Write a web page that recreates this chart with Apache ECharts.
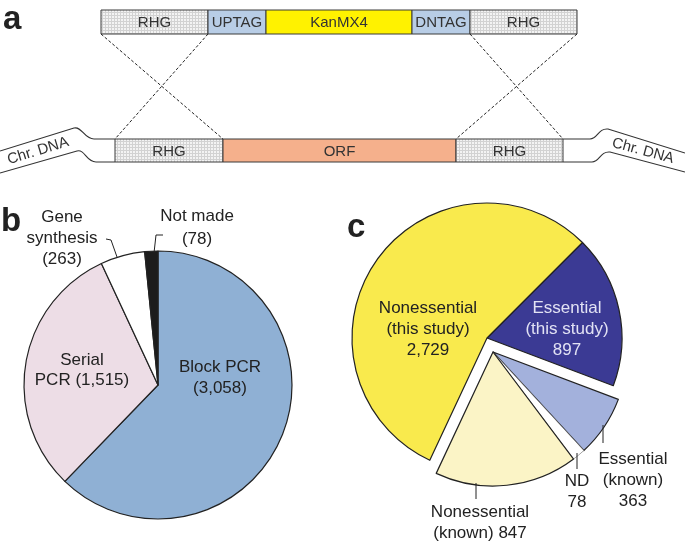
<!DOCTYPE html>
<html><head><meta charset="utf-8">
<script src="https://cdn.jsdelivr.net/npm/echarts@6/dist/echarts.min.js"></script>
<style>html,body{margin:0;padding:0;background:#fff}#c{width:685px;height:543px}</style>
</head><body><div id="c"></div>
<script>
// ---- Panel a: deletion-cassette construct (segment labels and lengths) ----
const cassetteLabels = ['RHG', 'UPTAG', 'KanMX4', 'DNTAG', 'RHG'];
const cassetteLengths = [107, 58, 146, 58, 107];
const chromLabels = ['RHG', 'ORF', 'RHG'];
const chromLengths = [108, 233, 107];

// ---- Panel b: construction method ----
const methodLabels = ['Block PCR', 'Serial PCR', 'Gene synthesis', 'Not made'];
const methodCounts = [3058, 1515, 263, 78];

// ---- Panel c: essentiality ----
const classLabels = ['Essential (this study)', 'Essential (known)', 'ND', 'Nonessential (known)', 'Nonessential (this study)'];
const classCounts = [897, 363, 78, 847, 2729];
const classExploded = [false, true, true, true, false];

const FONT = '"Liberation Sans", Arial, sans-serif';
const fmt = n => n.toLocaleString('en-US');

function gridPattern() {
  const cv = document.createElement('canvas');
  cv.width = 3; cv.height = 3;
  const g = cv.getContext('2d');
  g.fillStyle = '#f3f3f3'; g.fillRect(0, 0, 3, 3);
  g.fillStyle = '#d2d2d2'; g.fillRect(0, 0, 3, 1); g.fillRect(0, 0, 1, 3);
  return { image: cv, repeat: 'repeat' };
}
const rhgFill = gridPattern();
const segFill = { 'RHG': rhgFill, 'UPTAG': '#b8cde6', 'DNTAG': '#b8cde6', 'KanMX4': '#fff200', 'ORF': '#f5b08c' };

const cassetteStart = 101, chromStart = 115;
const rowTop = [10, 34], rowBottom = [139, 162];

function buildSegs(labels, lengths, start, row) {
  const out = []; let x = start;
  labels.forEach((l, i) => { out.push({ label: l, value: [x, x + lengths[i], row[0], row[1]] }); x += lengths[i]; });
  return out;
}
const segs = buildSegs(cassetteLabels, cassetteLengths, cassetteStart, rowTop)
  .concat(buildSegs(chromLabels, chromLengths, chromStart, rowBottom));

const chart = echarts.init(document.getElementById('c'), null, { renderer: 'canvas' });

function pieItems(labels, counts, colors, visibleMask, border) {
  return labels.map((l, i) => {
    const vis = visibleMask ? visibleMask[i] : true;
    return {
      name: l, value: counts[i],
      itemStyle: vis ? { color: colors[i], borderColor: border[i] || '#222', borderWidth: border[i] ? 0.6 : 1.2 }
                     : { color: 'rgba(0,0,0,0)', borderWidth: 0 }
    };
  });
}

const classColors = ['#3b3a94', '#a3b1dc', '#ffffff', '#fbf4c6', '#f9ea4d'];
const classBorders = [null, null, '#666', null, null];

const opt = {
  animation: false,
  grid: { left: 0, right: 0, top: 0, bottom: 0 },
  xAxis: { type: 'value', min: 0, max: 685, show: false },
  yAxis: { type: 'value', min: 0, max: 543, inverse: true, show: false },
  series: [
    {
      type: 'custom', silent: true, coordinateSystem: 'cartesian2d',
      data: segs.map(s => s.value),
      renderItem(params, api) {
        const s = segs[params.dataIndex];
        const p0 = api.coord([api.value(0), api.value(2)]);
        const p1 = api.coord([api.value(1), api.value(3)]);
        return { type: 'group', children: [
          { type: 'rect', shape: { x: p0[0], y: p0[1], width: p1[0] - p0[0], height: p1[1] - p0[1] },
            style: { fill: segFill[s.label], stroke: '#3a3a3a', lineWidth: 1 } },
          { type: 'text', style: { text: s.label, x: (p0[0] + p1[0]) / 2, y: (p0[1] + p1[1]) / 2 + 1,
            align: 'center', verticalAlign: 'middle', font: '15px ' + FONT, fill: '#333' } }
        ]};
      }
    },
    {
      type: 'custom', silent: true, coordinateSystem: 'cartesian2d',
      data: [[0]],
      renderItem(params, api) {
        const c = (x, y) => api.coord([x, y]);
        const tL0 = segs[0].value[0], tL1 = segs[0].value[1];
        const tR0 = segs[4].value[0], tR1 = segs[4].value[1];
        const bL0 = segs[5].value[0], bL1 = segs[5].value[1];
        const bR0 = segs[7].value[0], bR1 = segs[7].value[1];
        const yT = rowTop[1], yB = rowBottom[0], yB2 = rowBottom[1];
        const dash = (a, b) => ({ type: 'line', shape: { x1: a[0], y1: a[1], x2: b[0], y2: b[1] },
          style: { stroke: '#222', lineWidth: 1, lineDash: [3, 2] } });
        const path = d => ({ type: 'path', shape: { pathData: d }, style: { fill: null, stroke: '#333', lineWidth: 1.1 } });
        const pd = (a) => a.join(' ');
        const q = (x, y) => { const p = c(x, y); return p[0] + ' ' + p[1]; };
        const leftUp = pd(['M', q(0, 151), 'L', q(74, 128), 'C', q(82, 126), q(84, yB), q(94, yB), 'L', q(bL0, yB)]);
        const leftLo = pd(['M', q(0, 173), 'L', q(77, 151), 'C', q(85, 149), q(86, yB2), q(96, yB2), 'L', q(bL0, yB2)]);
        const rightUp = pd(['M', q(bR1, yB), 'L', q(590, yB), 'C', q(598, yB), q(598, 128), q(608, 129), 'L', q(685, 153)]);
        const rightLo = pd(['M', q(bR1, yB2), 'L', q(592, yB2), 'C', q(600, yB2), q(600, 151), q(610, 152), 'L', q(685, 172)]);
        const lt = c(38, 151), rt = c(643, 151);
        return { type: 'group', children: [
          dash(c(tL0, yT), c(bL1, yB)), dash(c(tL1, yT), c(bL0, yB)),
          dash(c(tR0, yT), c(bR1, yB)), dash(c(tR1, yT), c(bR0, yB)),
          path(leftUp), path(leftLo), path(rightUp), path(rightLo),
          { type: 'text', x: lt[0], y: lt[1], rotation: 17 * Math.PI / 180,
            style: { text: 'Chr. DNA', x: 0, y: 0, align: 'center', verticalAlign: 'middle', font: '15px ' + FONT, fill: '#333' } },
          { type: 'text', x: rt[0], y: rt[1], rotation: -15 * Math.PI / 180,
            style: { text: 'Chr. DNA', x: 0, y: 0, align: 'center', verticalAlign: 'middle', font: '15px ' + FONT, fill: '#333' } }
        ]};
      }
    },
    {
      type: 'pie', silent: true, center: [158, 385], radius: 134, startAngle: 90, clockwise: true,
      label: { show: false }, labelLine: { show: false }, emphasis: { disabled: true },
      data: pieItems(methodLabels, methodCounts, ['#8fb0d4', '#eddde6', '#ffffff', '#1c1c1c'], null, [null, null, null, null])
    },
    {
      type: 'pie', silent: true, center: [487, 338], radius: 135, startAngle: 45, clockwise: true,
      label: { show: false }, labelLine: { show: false }, emphasis: { disabled: true },
      data: pieItems(classLabels, classCounts, classColors, classExploded.map(e => !e), classBorders)
    },
    {
      type: 'pie', silent: true, center: [493, 352], radius: 134, startAngle: 45, clockwise: true,
      label: { show: false }, labelLine: { show: false }, emphasis: { disabled: true },
      data: pieItems(classLabels, classCounts, classColors, classExploded, classBorders)
    }
  ],
  graphic: { elements: [] }
};

const G = opt.graphic.elements;
function txt(x, y, text, o) {
  o = o || {};
  G.push({ type: 'text', x: x, y: y, silent: true, z: 100,
    style: { text: text, align: o.align || 'center', verticalAlign: 'middle', lineHeight: o.lh || 21,
      font: (o.bold ? 'bold ' : '') + (o.size || 17) + 'px ' + FONT, fill: o.color || '#222' } });
}
function poly(pts) {
  G.push({ type: 'polyline', silent: true, z: 100, shape: { points: pts }, style: { stroke: '#222', lineWidth: 1, fill: null } });
}
txt(3, 20, 'a', { align: 'left', size: 33, bold: true });
txt(1, 222, 'b', { align: 'left', size: 33, bold: true });
txt(347, 228, 'c', { align: 'left', size: 33, bold: true });

txt(62, 238, 'Gene\nsynthesis\n(' + fmt(methodCounts[2]) + ')');
poly([[106, 239], [111, 240], [117, 257]]);
txt(197, 228, 'Not made\n(' + fmt(methodCounts[3]) + ')', { lh: 23 });
poly([[163, 235], [156, 235], [154, 253]]);
txt(82, 370, 'Serial\nPCR (' + fmt(methodCounts[1]) + ')', { lh: 20 });
txt(220, 378, 'Block PCR\n(' + fmt(methodCounts[0]) + ')');

txt(428, 329, 'Nonessential\n(this study)\n' + fmt(classCounts[4]));
txt(567, 329, 'Essential\n(this study)\n' + fmt(classCounts[0]), { color: '#e2e2f4' });
txt(633, 480, 'Essential\n(known)\n' + fmt(classCounts[1]));
poly([[603, 425], [603, 443]]);
txt(577, 492, 'ND\n' + fmt(classCounts[2]));
poly([[577, 453], [577, 469]]);
txt(480, 523, 'Nonessential\n(known) ' + fmt(classCounts[3]));
poly([[476, 483], [476, 499]]);

chart.setOption(opt);
</script>
</body></html>
